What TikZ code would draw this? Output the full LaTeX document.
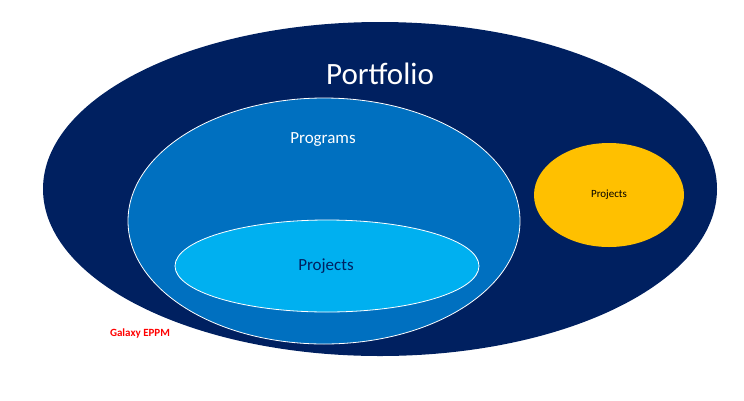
\documentclass[tikz,border=0pt]{standalone}
\usepackage{fontspec}
\setmainfont{Carlito}
\definecolor{navy}{HTML}{002060}
\definecolor{prog}{HTML}{0070C0}
\definecolor{proj}{HTML}{00B0F0}
\definecolor{gold}{HTML}{FFC000}
\tikzset{blob/.style={draw=white,line width=0.8pt}}
\begin{document}
\begin{tikzpicture}[x=1pt,y=-1pt]
\useasboundingbox (0,0) rectangle (744,400);
\fill[fill=navy] (380,189) ellipse [x radius=337,y radius=167];
\filldraw[blob,fill=prog] (324,221) ellipse [x radius=196,y radius=123];
\filldraw[blob,fill=proj] (327,266) ellipse [x radius=152,y radius=46];
\fill[fill=gold] (609,195) ellipse [x radius=75,y radius=52];
\node[text=white,font=\fontsize{31}{36}\selectfont] (portfolio) at (380,74) {Portfolio};
\node[text=white,font=\fontsize{17}{20}\selectfont] (programs) at (323,140) {Programs};
\node[text=navy,font=\fontsize{17}{20}\selectfont] (projects) at (326,266) {Projects};
\node[text=black,font=\fontsize{11}{13}\selectfont] (projects2) at (609,195) {Projects};
\node[text=red,font=\bfseries\fontsize{11}{13}\selectfont] (galaxy) at (140,333) {Galaxy EPPM};
\end{tikzpicture}
\end{document}
